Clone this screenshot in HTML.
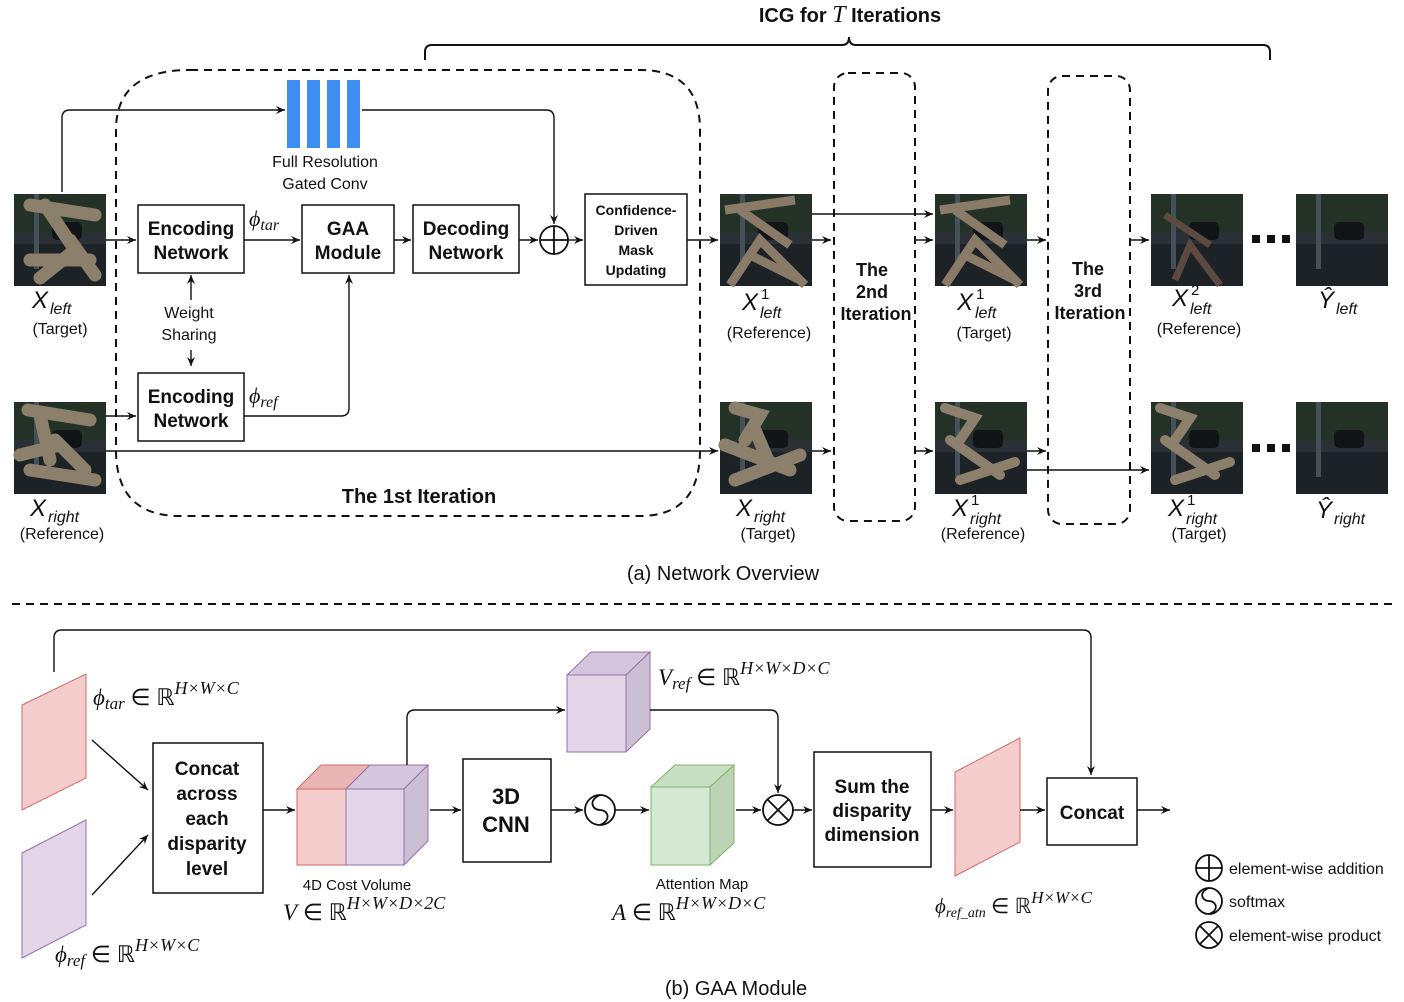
<!DOCTYPE html>
<html><head><meta charset="utf-8"><style>
body{margin:0;background:#fff}
svg{display:block}
text{font-family:"Liberation Sans",sans-serif;fill:#111}
.b{font-weight:bold}
.m{font-family:"Liberation Serif",serif;font-style:italic}
</style></head><body>
<svg width="1404" height="1002" viewBox="0 0 1404 1002" xmlns="http://www.w3.org/2000/svg">
<defs>
<marker id="a" markerWidth="10" markerHeight="10" refX="9" refY="5" orient="auto" markerUnits="userSpaceOnUse"><path d="M0,1 L9,5 L0,9 L3,5z" fill="#111"/></marker>
<g id="img">
<rect width="92" height="92" fill="#1d2226"/>
<rect width="92" height="38" fill="#243126"/>
<rect y="38" width="92" height="12" fill="#2a3036"/>
<rect x="20" y="0" width="5" height="75" fill="#45505a"/>
<rect x="38" y="28" width="30" height="18" rx="5" fill="#121517"/>
</g>
</defs>

<text x="850" y="22" text-anchor="middle" font-size="20" class="b">ICG for <tspan class="m" font-weight="normal" font-size="24">T</tspan> Iterations</text>
<path d="M425,60 V52 Q425,45 432,45 H842 Q849,45 849,37 Q849,45 856,45 H1263 Q1270,45 1270,52 V60" fill="none" stroke="#111" stroke-width="2"/>

<path d="M190,70 H640 Q700,70 700,130 V450 Q700,516 640,516 H180 Q116,516 116,450 V130 Q116,70 190,70z" fill="none" stroke="#111" stroke-width="2" stroke-dasharray="8,6"/>
<text x="419" y="503" text-anchor="middle" font-size="20" class="b">The 1st Iteration</text>

<use href="#img" x="14" y="194"/>
<path d="M30,205 L95,215 M45,205 L75,250 L40,278 M70,240 L95,275 M30,260 L90,260" stroke="#8c7f6c" stroke-width="13" fill="none" stroke-linecap="round"/>
<use href="#img" x="14" y="402"/>
<path d="M28,410 L90,420 M40,415 L50,460 M30,470 L95,480 M55,440 L85,470 M20,455 L60,445" stroke="#8c7f6c" stroke-width="13" fill="none" stroke-linecap="round"/>
<use href="#img" x="720" y="194"/>
<path d="M725,210 L795,200 M740,210 L790,245 M730,285 L760,240 L805,285 M750,255 L800,280" stroke="#8a7a68" stroke-width="9" fill="none"/>
<use href="#img" x="720" y="402"/>
<path d="M735,408 L760,415 L745,440 M725,445 L790,470 M735,480 L800,455 M755,430 L770,465" stroke="#8c7f6c" stroke-width="13" fill="none" stroke-linecap="round"/>
<use href="#img" x="935" y="194"/>
<path d="M940,210 L1010,200 M955,210 L1005,245 M945,285 L975,240 L1020,285 M965,255 L1015,280" stroke="#8a7a68" stroke-width="9" fill="none"/>
<use href="#img" x="935" y="402"/>
<path d="M945,408 L975,418 L960,440 M950,440 L1000,475 M960,480 L1015,462" stroke="#8c7f6c" stroke-width="10" fill="none" stroke-linecap="round"/>
<use href="#img" x="1151" y="194"/>
<path d="M1165,215 L1210,245 M1175,280 L1190,245 L1220,285" stroke="#5c4a40" stroke-width="7" fill="none"/>
<use href="#img" x="1151" y="402"/>
<path d="M1160,408 L1190,418 L1175,440 M1165,440 L1215,475 M1175,480 L1230,462" stroke="#8c7f6c" stroke-width="10" fill="none" stroke-linecap="round"/>
<use href="#img" x="1296" y="194"/>
<use href="#img" x="1296" y="402"/>

<g font-size="24" class="m">
<text x="32" y="308">X</text><text x="50" y="314" font-size="16">left</text>
<text x="30" y="516">X</text><text x="48" y="522" font-size="16">right</text>
<text x="742" y="310">X</text><text x="760" y="318" font-size="16">left</text><text x="761" y="299" font-size="15" font-style="normal">1</text>
<text x="736" y="516">X</text><text x="754" y="522" font-size="16">right</text>
<text x="957" y="310">X</text><text x="975" y="318" font-size="16">left</text><text x="976" y="299" font-size="15" font-style="normal">1</text>
<text x="952" y="516">X</text><text x="970" y="524" font-size="16">right</text><text x="971" y="505" font-size="15" font-style="normal">1</text>
<text x="1172" y="306">X</text><text x="1190" y="314" font-size="16">left</text><text x="1191" y="295" font-size="15" font-style="normal">2</text>
<text x="1168" y="516">X</text><text x="1186" y="524" font-size="16">right</text><text x="1187" y="505" font-size="15" font-style="normal">1</text>
<text x="1318" y="308">Ŷ</text><text x="1336" y="314" font-size="16">left</text>
<text x="1316" y="518">Ŷ</text><text x="1334" y="524" font-size="16">right</text>
</g>
<g font-size="16" text-anchor="middle">
<text x="60" y="334">(Target)</text>
<text x="62" y="539">(Reference)</text>
<text x="769" y="338">(Reference)</text>
<text x="768" y="539">(Target)</text>
<text x="984" y="338">(Target)</text>
<text x="983" y="539">(Reference)</text>
<text x="1199" y="334">(Reference)</text>
<text x="1199" y="539">(Target)</text>
</g>

<g fill="#fff" stroke="#111" stroke-width="1.5">
<rect x="138" y="205" width="106" height="68"/>
<rect x="138" y="373" width="106" height="68"/>
<rect x="302" y="205" width="92" height="68"/>
<rect x="413" y="205" width="106" height="68"/>
<rect x="585" y="194" width="102" height="91"/>
</g>
<g font-size="19" class="b" text-anchor="middle">
<text x="191" y="235">Encoding</text><text x="191" y="259">Network</text>
<text x="191" y="403">Encoding</text><text x="191" y="427">Network</text>
<text x="348" y="235">GAA</text><text x="348" y="259">Module</text>
<text x="466" y="235">Decoding</text><text x="466" y="259">Network</text>
</g>
<g font-size="14" class="b" text-anchor="middle">
<text x="636" y="215">Confidence-</text><text x="636" y="235">Driven</text><text x="636" y="255">Mask</text><text x="636" y="275">Updating</text>
</g>
<g fill="#3d8ef0">
<rect x="287" y="80" width="13" height="68"/><rect x="307" y="80" width="13" height="68"/><rect x="327" y="80" width="13" height="68"/><rect x="347" y="80" width="13" height="68"/>
</g>
<text x="325" y="167" text-anchor="middle" font-size="16">Full Resolution</text>
<text x="325" y="189" text-anchor="middle" font-size="16">Gated Conv</text>
<text x="189" y="318" text-anchor="middle" font-size="16">Weight</text>
<text x="189" y="340" text-anchor="middle" font-size="16">Sharing</text>
<text x="249" y="226" font-size="22" class="m">ϕ<tspan font-size="16" dy="4">tar</tspan></text>
<text x="249" y="403" font-size="22" class="m">ϕ<tspan font-size="16" dy="4">ref</tspan></text>
<circle cx="554" cy="240" r="14" fill="none" stroke="#111" stroke-width="1.8"/>
<path d="M540,240 H568 M554,226 V254" stroke="#111" stroke-width="1.8"/>

<g fill="none" stroke="#111" stroke-width="1.4" marker-end="url(#a)">
<path d="M62,192 V118 Q62,110 70,110 H285"/>
<path d="M362,110 H546 Q554,110 554,118 V224"/>
<path d="M106,240 H136"/>
<path d="M106,416 H136"/>
<path d="M244,240 H300"/>
<path d="M394,240 H411"/>
<path d="M519,240 H538"/>
<path d="M568,240 H583"/>
<path d="M687,240 H718"/>
<path d="M244,416 H341 Q349,416 349,408 V275"/>
<path d="M191,300 V275"/>
<path d="M191,350 V366"/>
<path d="M106,451 H718"/>
<path d="M812,240 H831"/>
<path d="M812,214 H933"/>
<path d="M812,451 H831"/>
<path d="M916,240 H933"/>
<path d="M916,451 H933"/>
<path d="M1027,240 H1046"/>
<path d="M1027,451 H1046"/>
<path d="M1131,240 H1149"/>
<path d="M1027,470 H1149"/>
</g>
<rect x="834" y="73" width="81" height="448" rx="14" fill="none" stroke="#111" stroke-width="2" stroke-dasharray="8,6"/>
<rect x="1048" y="76" width="82" height="448" rx="14" fill="none" stroke="#111" stroke-width="2" stroke-dasharray="8,6"/>
<g font-size="18" class="b" text-anchor="middle">
<text x="872" y="276">The</text><text x="872" y="298">2nd</text><text x="876" y="320">Iteration</text>
<text x="1088" y="275">The</text><text x="1088" y="297">3rd</text><text x="1090" y="319">Iteration</text>
</g>
<g fill="#111">
<rect x="1252" y="235" width="8" height="8"/><rect x="1267" y="235" width="8" height="8"/><rect x="1282" y="235" width="8" height="8"/>
<rect x="1252" y="444" width="8" height="8"/><rect x="1267" y="444" width="8" height="8"/><rect x="1282" y="444" width="8" height="8"/>
</g>
<text x="723" y="580" text-anchor="middle" font-size="20">(a) Network Overview</text>
<path d="M12,604 H1396" stroke="#111" stroke-width="2" stroke-dasharray="8,6"/>

<path d="M22,705 L86,674 L86,778 L22,810z" fill="#f4cccc" stroke="#d06a6a"/>
<path d="M22,853 L86,820 L86,925 L22,958z" fill="#e1d5e7" stroke="#9673a6"/>
<path d="M955,772 L1020,738 L1020,842 L955,876z" fill="#f4cccc" stroke="#d06a6a"/>
<text x="93" y="705" font-size="23" class="m">ϕ<tspan font-size="17" dy="4">tar</tspan><tspan dy="-4" font-style="normal"> ∈ ℝ</tspan><tspan font-size="18" dy="-11">H×W×C</tspan></text>
<text x="55" y="962" font-size="23" class="m">ϕ<tspan font-size="17" dy="4">ref</tspan><tspan dy="-4" font-style="normal"> ∈ ℝ</tspan><tspan font-size="18" dy="-11">H×W×C</tspan></text>
<text x="935" y="913" font-size="21" class="m">ϕ<tspan font-size="14" dy="4">ref_atn</tspan><tspan dy="-4" font-style="normal"> ∈ ℝ</tspan><tspan font-size="17" dy="-10">H×W×C</tspan></text>

<g fill="#fff" stroke="#111" stroke-width="1.5">
<rect x="153" y="743" width="110" height="150"/>
<rect x="463" y="759" width="88" height="103"/>
<rect x="814" y="752" width="117" height="115"/>
<rect x="1047" y="778" width="90" height="67"/>
</g>
<g font-size="19" class="b" text-anchor="middle">
<text x="207" y="775">Concat</text><text x="207" y="800">across</text><text x="207" y="825">each</text><text x="207" y="850">disparity</text><text x="207" y="875">level</text>
<text x="506" y="804" font-size="22">3D</text><text x="506" y="832" font-size="22">CNN</text>
<text x="872" y="793">Sum the</text><text x="872" y="817">disparity</text><text x="872" y="841">dimension</text>
<text x="1092" y="819">Concat</text>
</g>

<path d="M297,789 L321,765 L370,765 L346,789z" fill="#e8b4b4" stroke="#d06a6a"/>
<path d="M346,789 L370,765 L428,765 L404,789z" fill="#d4c6dc" stroke="#9673a6"/>
<path d="M404,789 L428,765 L428,841 L404,865z" fill="#cbbfd3" stroke="#9673a6"/>
<rect x="297" y="789" width="49" height="76" fill="#f4cccc" stroke="#d06a6a"/>
<rect x="346" y="789" width="58" height="76" fill="#e1d5e7" stroke="#9673a6"/>
<text x="357" y="890" text-anchor="middle" font-size="15">4D Cost Volume</text>
<text x="283" y="920" font-size="23" class="m">V<tspan font-style="normal"> ∈ ℝ</tspan><tspan font-size="18" dy="-11">H×W×D×2C</tspan></text>
<path d="M567,675 L591,652 L650,652 L626,675z" fill="#d4c6dc" stroke="#9673a6"/>
<path d="M626,675 L650,652 L650,729 L626,752z" fill="#cbbfd3" stroke="#9673a6"/>
<rect x="567" y="675" width="59" height="77" fill="#e1d5e7" stroke="#9673a6"/>
<text x="658" y="685" font-size="23" class="m">V<tspan font-size="17" dy="4">ref</tspan><tspan dy="-4" font-style="normal"> ∈ ℝ</tspan><tspan font-size="18" dy="-11">H×W×D×C</tspan></text>
<path d="M651,787 L675,765 L734,765 L710,787z" fill="#c7dfc2" stroke="#82b366"/>
<path d="M710,787 L734,765 L734,843 L710,865z" fill="#bcd3b6" stroke="#82b366"/>
<rect x="651" y="787" width="59" height="78" fill="#d5e8d4" stroke="#82b366"/>
<text x="702" y="889" text-anchor="middle" font-size="15">Attention Map</text>
<text x="612" y="920" font-size="23" class="m">A<tspan font-style="normal"> ∈ ℝ</tspan><tspan font-size="18" dy="-11">H×W×D×C</tspan></text>

<circle cx="600" cy="810" r="15" fill="#fff" stroke="#111" stroke-width="1.8"/>
<path d="M600,795 C588,800 592,810 600,810 C608,810 612,820 600,825" fill="none" stroke="#111" stroke-width="1.8"/>
<circle cx="778" cy="810" r="15" fill="#fff" stroke="#111" stroke-width="1.8"/>
<path d="M767,799 L789,821 M789,799 L767,821" stroke="#111" stroke-width="1.8"/>

<g fill="none" stroke="#111" stroke-width="1.4" marker-end="url(#a)">
<path d="M92,740 L148,790"/>
<path d="M92,895 L148,835"/>
<path d="M263,810 H295"/>
<path d="M430,810 H461"/>
<path d="M551,810 H583"/>
<path d="M615,810 H649"/>
<path d="M736,810 H761"/>
<path d="M793,810 H812"/>
<path d="M931,810 H953"/>
<path d="M1020,810 H1045"/>
<path d="M1137,810 H1170"/>
<path d="M407,765 V718 Q407,710 415,710 H565"/>
<path d="M650,710 H770 Q778,710 778,718 V793"/>
<path d="M54,672 V638 Q54,630 62,630 H1083 Q1091,630 1091,638 V775"/>
</g>

<circle cx="1209" cy="868" r="13" fill="none" stroke="#111" stroke-width="1.8"/>
<path d="M1196,868 H1222 M1209,855 V881" stroke="#111" stroke-width="1.8"/>
<circle cx="1209" cy="901" r="13" fill="none" stroke="#111" stroke-width="1.8"/>
<path d="M1209,888 C1198,892 1202,901 1209,901 C1216,901 1220,910 1209,914" fill="none" stroke="#111" stroke-width="1.8"/>
<circle cx="1209" cy="935" r="13" fill="none" stroke="#111" stroke-width="1.8"/>
<path d="M1200,926 L1218,944 M1218,926 L1200,944" stroke="#111" stroke-width="1.8"/>
<text x="1229" y="874" font-size="16">element-wise addition</text>
<text x="1229" y="907" font-size="16">softmax</text>
<text x="1229" y="941" font-size="16">element-wise product</text>

<text x="736" y="995" text-anchor="middle" font-size="20">(b) GAA Module</text>
</svg>
</body></html>
